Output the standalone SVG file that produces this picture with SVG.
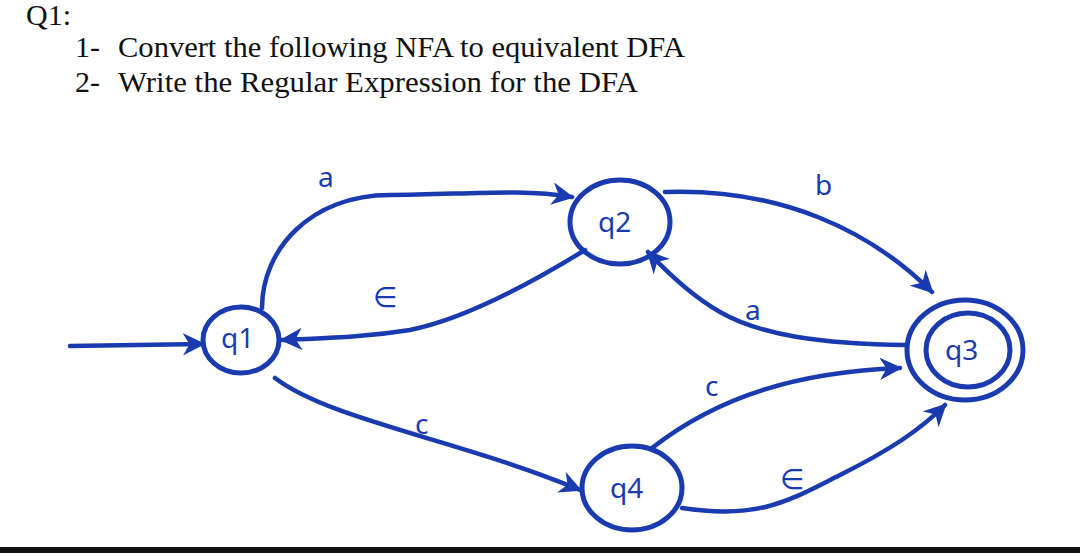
<svg xmlns="http://www.w3.org/2000/svg" width="1080" height="557" viewBox="0 0 1080 557">
<style>
.h{font-family:"Liberation Serif",serif;font-size:30px;fill:#111}
.st{fill:none;stroke:#1a3bb0;stroke-width:5}
.e{fill:none;stroke:#1a3bb0;stroke-width:4.5;stroke-linecap:round}
.l{font-family:"Noto Sans","DejaVu Sans",sans-serif;font-size:28px;fill:#1a3bb0}
</style>
<defs><marker id="ar" viewBox="0 0 10 10" refX="9" refY="5" markerWidth="5" markerHeight="5" orient="auto" markerUnits="strokeWidth"><path d="M0,0 L10,5 L0,10 L3,5 Z" fill="#1a3bb0"/></marker></defs>
<rect width="1080" height="557" fill="#fff"/>
<text class="h" x="26" y="25">Q1:</text>
<text class="h" x="75" y="57">1-</text><text class="h" x="118" y="57" textLength="567" lengthAdjust="spacingAndGlyphs">Convert the following NFA to equivalent DFA</text>
<text class="h" x="75" y="92">2-</text><text class="h" x="118" y="92" textLength="520" lengthAdjust="spacingAndGlyphs">Write the Regular Expression for the DFA</text>
<g id="edges">
<path class="e" marker-end="url(#ar)" d="M70,346 L203,344"/>
<path class="e" marker-end="url(#ar)" d="M262,308 C262,250 310,195 390,195 C460,195 520,188 572,197"/>
<path class="e" marker-end="url(#ar)" d="M585,250 C520,290 460,320 410,330 C360,338 320,338 282,340"/>
<path class="e" marker-end="url(#ar)" d="M665,192 C780,188 870,230 932,292"/>
<path class="e" marker-end="url(#ar)" d="M907,345 C820,344 760,335 720,312 C690,295 665,270 648,252"/>
<path class="e" marker-end="url(#ar)" d="M275,378 C330,420 460,440 580,490"/>
<path class="e" marker-end="url(#ar)" d="M652,448 C720,395 800,372 900,368"/>
<path class="e" marker-end="url(#ar)" d="M682,508 C760,520 790,500 840,475 C890,450 920,430 945,405"/>
<text class="l" x="318" y="187">a</text>
<text class="l" x="373" y="307">∈</text>
<text class="l" x="815" y="195">b</text>
<text class="l" x="745" y="320">a</text>
<text class="l" x="415" y="434">c</text>
<text class="l" x="705" y="396">c</text>
<text class="l" x="780" y="489">∈</text>
</g>
<g id="q1"><ellipse class="st" cx="241" cy="340" rx="38" ry="33"/><text class="l" x="221" y="348" font-size="22">q1</text></g>
<g id="q2"><ellipse class="st" cx="620" cy="222" rx="50" ry="42"/><text class="l" x="598" y="232" font-size="24">q2</text></g>
<g id="q3"><ellipse class="st" cx="965" cy="350" rx="58" ry="50"/><ellipse class="st" cx="968" cy="350" rx="42" ry="37"/><text class="l" x="945" y="360" font-size="24">q3</text></g>
<g id="q4"><ellipse class="st" cx="632" cy="488" rx="50" ry="42"/><text class="l" x="610" y="498" font-size="24">q4</text></g>
<rect x="0" y="547" width="1080" height="6" fill="#111"/>
</svg>
